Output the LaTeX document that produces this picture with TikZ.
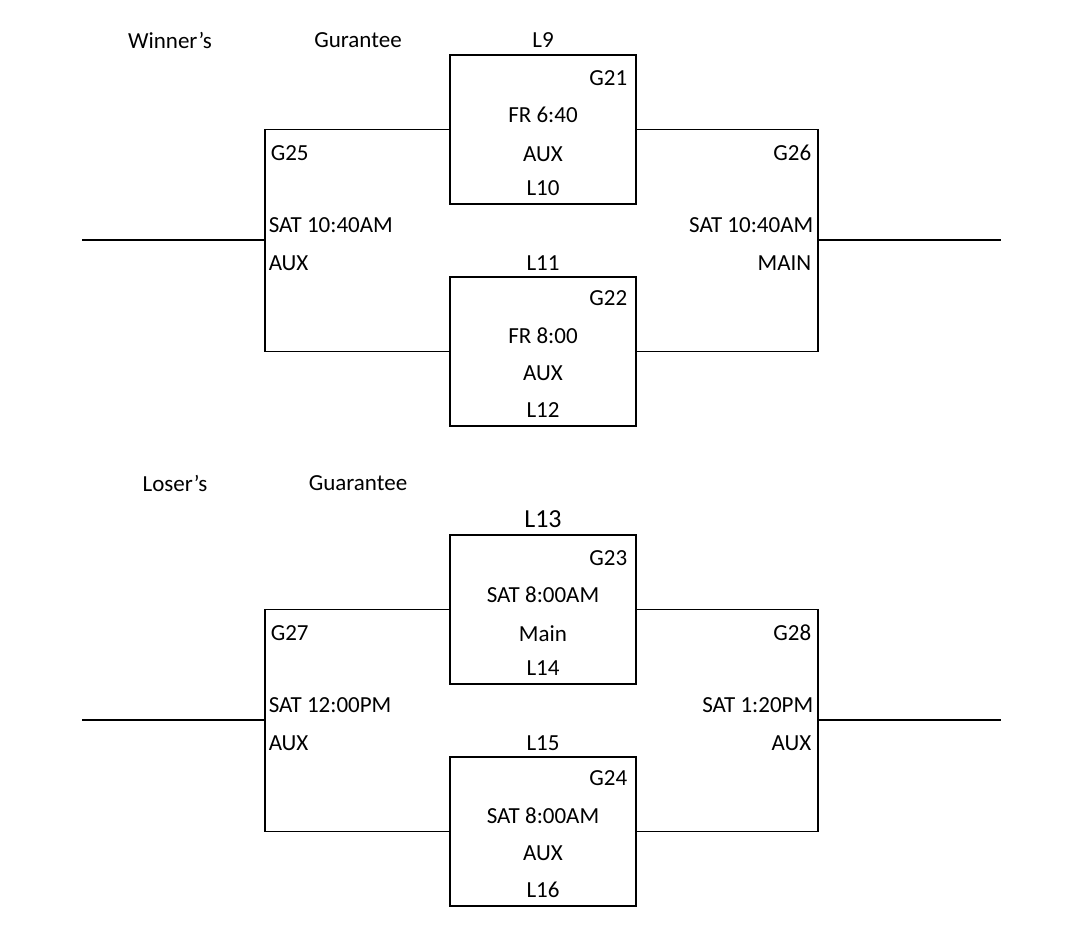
\documentclass[tikz,border=0pt]{standalone}
\usepackage{fontspec}
\setmainfont{Carlito}
\begin{document}
\begin{tikzpicture}[x=1pt,y=-1pt,line width=1.5pt,
  game/.style={draw,minimum width=186pt,minimum height=149pt,inner sep=0pt},
  lbl/.style={font=\fontsize{23}{26}\selectfont,inner sep=0pt}]
  \useasboundingbox (0,0) rectangle (1068,942);
  % ---- winner's bracket ----
  \node[lbl] at (170,40) {Winner{\char"27}s};
  \node[lbl] at (358,40) {Gurantee};
  \node[lbl] at (543,40) {L9};
  \node[game] (g21) at (543,129.5) {};
  \node[game] (g22) at (543,351.5) {};
  \node[lbl, anchor=east] at (628,78) {G21};
  \node[lbl] at (543,115) {FR 6:40};
  \node[lbl] at (543,154) {AUX};
  \node[lbl] at (543,188) {L10};
  \node[lbl] at (543,263) {L11};
  \node[lbl, anchor=east] at (628,298) {G22};
  \node[lbl] at (543,336) {FR 8:00};
  \node[lbl] at (543,373) {AUX};
  \node[lbl] at (543,410) {L12};
  \node[lbl, anchor=west] at (270,153) {G25};
  \node[lbl, anchor=west] at (268,225) {SAT 10:40AM};
  \node[lbl, anchor=west] at (268,263) {AUX};
  \node[lbl, anchor=east] at (812,153) {G26};
  \node[lbl, anchor=east] at (814,225) {SAT 10:40AM};
  \node[lbl, anchor=east] at (812,263) {MAIN};
  \coordinate (w25) at (265,240);
  \coordinate (w26) at (818,240);
  \coordinate (win) at (82,240);
  \coordinate (wout) at (1001,240);
  \draw (g21.west) -| (w25) |- (g22.west);
  \draw (g21.east) -| (w26) |- (g22.east);
  \draw (win) -- (w25);
  \draw (w26) -- (wout);
  % ---- loser's bracket ----
  \node[lbl] at (175,483) {Loser{\char"27}s};
  \node[lbl] at (358,483) {Guarantee};
  \node[lbl, font=\fontsize{26}{30}\selectfont] at (543,519) {L13};
  \node[game] (g23) at (543,609.5) {};
  \node[game] (g24) at (543,831.5) {};
  \node[lbl, anchor=east] at (628,558) {G23};
  \node[lbl] at (543,595) {SAT 8:00AM};
  \node[lbl] at (543,634) {Main};
  \node[lbl] at (543,668) {L14};
  \node[lbl] at (543,743) {L15};
  \node[lbl, anchor=east] at (628,778) {G24};
  \node[lbl] at (543,816) {SAT 8:00AM};
  \node[lbl] at (543,853) {AUX};
  \node[lbl] at (543,890) {L16};
  \node[lbl, anchor=west] at (270,633) {G27};
  \node[lbl, anchor=west] at (268,705) {SAT 12:00PM};
  \node[lbl, anchor=west] at (268,743) {AUX};
  \node[lbl, anchor=east] at (812,633) {G28};
  \node[lbl, anchor=east] at (814,705) {SAT 1:20PM};
  \node[lbl, anchor=east] at (812,743) {AUX};
  \coordinate (l27) at (265,720);
  \coordinate (l28) at (818,720);
  \coordinate (lin) at (82,720);
  \coordinate (lout) at (1001,720);
  \draw (g23.west) -| (l27) |- (g24.west);
  \draw (g23.east) -| (l28) |- (g24.east);
  \draw (lin) -- (l27);
  \draw (l28) -- (lout);
\end{tikzpicture}
\end{document}
